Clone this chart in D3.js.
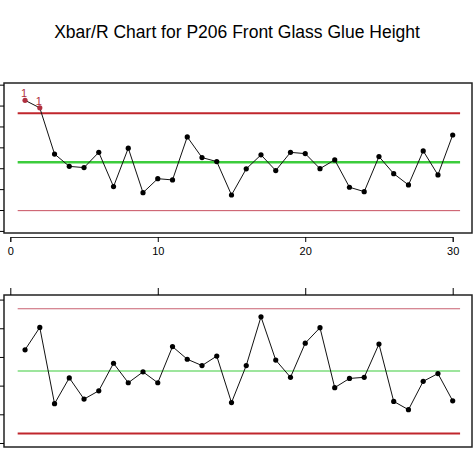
<!DOCTYPE html><html><head><script src="https://d3js.org/d3.v7.min.js"></script>
<style>body{margin:0;background:#fff}</style></head><body><script>
const samples=d3.range(1,31);
const xTicks=[0,10,20,30];
const xbar=[6.25,5.89,3.68,3.09,3.03,3.76,2.12,3.96,1.83,2.50,2.44,4.50,3.51,3.32,1.72,2.97,3.64,2.89,3.76,3.70,2.98,3.40,2.09,1.88,3.56,2.74,2.20,3.83,2.68,4.59];
const xbarLimits={ucl:5.63,cl:3.29,lcl:0.97};
const xbarTicks=[0,1,2,3,4,5,6,7];
const range=[3.25,4.03,1.37,2.27,1.53,1.82,2.78,2.10,2.48,2.10,3.36,2.92,2.70,3.03,1.41,2.70,4.40,2.89,2.29,3.48,4.02,1.93,2.25,2.29,3.45,1.45,1.16,2.15,2.42,1.47];
const rLimits={ucl:4.68,cl:2.51,lcl:0.33};
const rTicks=[0,1,2,3,4,5];
const outOfControl=[1,2];

const W=474,H=474;
const svg=d3.select("body").append("svg").attr("width",W).attr("height",H);
svg.append("text").attr("x",237).attr("y",38).attr("text-anchor","middle")
 .attr("font-family","Liberation Sans, Arial").attr("font-size",17.5).text("Xbar/R Chart for P206 Front Glass Glue Height");
const x=d3.scaleLinear().domain([0,30]).range([10.3,452.7]);

function panel(top,bottom,domain,vals,lim,ticks,opts){
  const y=d3.scaleLinear().domain(domain).range([bottom,top]);
  const g=svg.append("g");
  g.append("rect").attr("x",4).attr("y",top).attr("width",468).attr("height",bottom-top)
   .attr("fill","none").attr("stroke","#222").attr("stroke-width",1.5);
  const yax=g.append("g").attr("transform","translate(4,0)").call(d3.axisLeft(y).tickValues(ticks).tickSize(5).tickFormat(""));
  yax.select(".domain").remove();
  if(opts.bottomAxis){
    const xa=g.append("g").attr("transform",`translate(0,${bottom+4})`).call(d3.axisBottom(x).tickValues(xTicks).tickSize(5));
    xa.select(".domain").attr("stroke","#333");
    xa.selectAll("text").attr("font-family","Liberation Sans, Arial").attr("font-size",11).attr("dy","0.9em");
  } else {
    const xa=g.append("g").attr("transform",`translate(0,${top})`).call(d3.axisTop(x).tickValues(xTicks).tickSize(7).tickFormat(""));
    xa.select(".domain").remove();
  }
  const hl=(v,c,w)=>g.append("line").attr("x1",x(0.5)).attr("x2",x(30.5)).attr("y1",y(v)).attr("y2",y(v)).attr("stroke",c).attr("stroke-width",w);
  hl(lim.ucl,opts.uclC,opts.uclW); hl(lim.cl,"#3ccc3c",opts.clW); hl(lim.lcl,opts.lclC,opts.lclW);
  g.append("path").datum(vals).attr("fill","none").attr("stroke","#111").attr("stroke-width",1)
   .attr("d",d3.line().x((d,i)=>x(samples[i])).y(d=>y(d)));
  g.selectAll("circle").data(vals).join("circle").attr("cx",(d,i)=>x(samples[i])).attr("cy",d=>y(d)).attr("r",2.6)
   .attr("fill",(d,i)=>opts.flag&&outOfControl.includes(samples[i])?"#b03040":"#000");
  if(opts.flag) outOfControl.forEach(s=>{
    g.append("text").attr("x",x(s)-4).attr("y",y(vals[s-1])-3).attr("fill","#b03040")
     .attr("font-family","Liberation Sans, Arial").attr("font-size",11).text("1");
  });
}
panel(83,233,[-0.1,7.08],xbar,xbarLimits,xbarTicks,{bottomAxis:true,flag:true,uclC:"#c0262c",uclW:2,lclC:"#c85060",lclW:1,clW:2.5});
panel(295,447,[-0.14,5.16],range,rLimits,rTicks,{bottomAxis:false,flag:false,uclC:"#c86070",uclW:1.2,lclC:"#c0262c",lclW:2,clW:1.2});
</script></body></html>
